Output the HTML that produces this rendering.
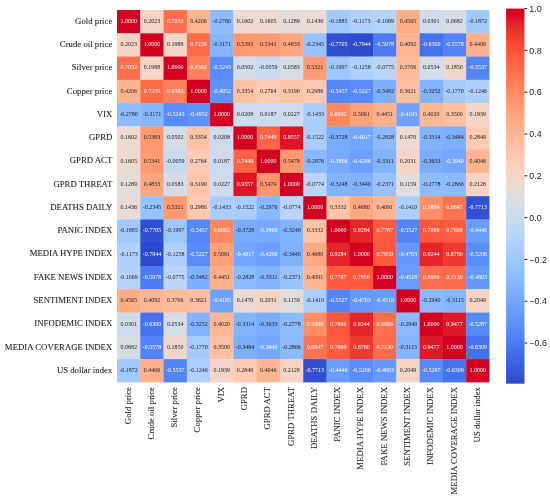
<!DOCTYPE html>
<html lang="en"><head><meta charset="utf-8"><title>Correlation heatmap</title>
<style>html,body{margin:0;padding:0;background:#fff}body{width:550px;height:500px;overflow:hidden}svg{display:block}.yl,.xl{stroke:#1c1c1c;stroke-width:0.08px}.yl{font-family:"Liberation Serif","Times New Roman",serif;font-size:8.75px;fill:#1c1c1c;text-anchor:end}.xl{font-family:"Liberation Serif","Times New Roman",serif;font-size:8.75px;fill:#1c1c1c;text-anchor:end}.an{font-family:"Liberation Serif","Times New Roman",serif;font-size:6.0px;text-anchor:middle}.cb{font-family:"Liberation Sans",Arial,sans-serif;font-size:8.9px;fill:#1c1c1c}</style></head><body>
<svg width="550" height="500" viewBox="0 0 550 500">
<rect x="0" y="0" width="550" height="500" fill="#ffffff"/>
<g>
<rect x="117.00" y="10.00" width="23.58" height="23.57" fill="#d30022"/>
<rect x="140.28" y="10.00" width="23.58" height="23.57" fill="#f6d4c5"/>
<rect x="163.56" y="10.00" width="23.58" height="23.57" fill="#ff6f4d"/>
<rect x="186.84" y="10.00" width="23.58" height="23.57" fill="#ffb38f"/>
<rect x="210.12" y="10.00" width="23.58" height="23.57" fill="#8dbbff"/>
<rect x="233.41" y="10.00" width="23.58" height="23.57" fill="#edd9d0"/>
<rect x="256.69" y="10.00" width="23.58" height="23.57" fill="#edd9d0"/>
<rect x="279.97" y="10.00" width="23.58" height="23.57" fill="#e4dcd8"/>
<rect x="303.25" y="10.00" width="23.58" height="23.57" fill="#e8dad5"/>
<rect x="326.53" y="10.00" width="23.58" height="23.57" fill="#a1c8ff"/>
<rect x="349.81" y="10.00" width="23.58" height="23.57" fill="#b1d1fd"/>
<rect x="373.09" y="10.00" width="23.58" height="23.57" fill="#b4d2fc"/>
<rect x="396.38" y="10.00" width="23.58" height="23.57" fill="#ffac86"/>
<rect x="419.66" y="10.00" width="23.58" height="23.57" fill="#cfdbeb"/>
<rect x="442.94" y="10.00" width="23.58" height="23.57" fill="#d7dce3"/>
<rect x="466.22" y="10.00" width="23.28" height="23.57" fill="#a1c8ff"/>
<rect x="117.00" y="33.27" width="23.58" height="23.57" fill="#f6d4c5"/>
<rect x="140.28" y="33.27" width="23.58" height="23.57" fill="#d30022"/>
<rect x="163.56" y="33.27" width="23.58" height="23.57" fill="#f5d5c7"/>
<rect x="186.84" y="33.27" width="23.58" height="23.57" fill="#ff6a49"/>
<rect x="210.12" y="33.27" width="23.58" height="23.57" fill="#85b5ff"/>
<rect x="233.41" y="33.27" width="23.58" height="23.57" fill="#ff9970"/>
<rect x="256.69" y="33.27" width="23.58" height="23.57" fill="#ff9a72"/>
<rect x="279.97" y="33.27" width="23.58" height="23.57" fill="#ffa67e"/>
<rect x="303.25" y="33.27" width="23.58" height="23.57" fill="#96c2ff"/>
<rect x="326.53" y="33.27" width="23.58" height="23.57" fill="#304fd1"/>
<rect x="349.81" y="33.27" width="23.58" height="23.57" fill="#2d49cc"/>
<rect x="373.09" y="33.27" width="23.58" height="23.57" fill="#4c7bf2"/>
<rect x="396.38" y="33.27" width="23.58" height="23.57" fill="#ffb592"/>
<rect x="419.66" y="33.27" width="23.58" height="23.57" fill="#4673ed"/>
<rect x="442.94" y="33.27" width="23.58" height="23.57" fill="#5283f7"/>
<rect x="466.22" y="33.27" width="23.28" height="23.57" fill="#ffaf89"/>
<rect x="117.00" y="56.55" width="23.58" height="23.57" fill="#ff6f4d"/>
<rect x="140.28" y="56.55" width="23.58" height="23.57" fill="#f5d5c7"/>
<rect x="163.56" y="56.55" width="23.58" height="23.57" fill="#d30022"/>
<rect x="186.84" y="56.55" width="23.58" height="23.57" fill="#ff805a"/>
<rect x="210.12" y="56.55" width="23.58" height="23.57" fill="#598bf9"/>
<rect x="233.41" y="56.55" width="23.58" height="23.57" fill="#d3dce7"/>
<rect x="256.69" y="56.55" width="23.58" height="23.57" fill="#c8daf1"/>
<rect x="279.97" y="56.55" width="23.58" height="23.57" fill="#d5dce6"/>
<rect x="303.25" y="56.55" width="23.58" height="23.57" fill="#ff9a72"/>
<rect x="326.53" y="56.55" width="23.58" height="23.57" fill="#9ec7ff"/>
<rect x="349.81" y="56.55" width="23.58" height="23.57" fill="#afd0fd"/>
<rect x="373.09" y="56.55" width="23.58" height="23.57" fill="#bad4fa"/>
<rect x="396.38" y="56.55" width="23.58" height="23.57" fill="#ffbc9b"/>
<rect x="419.66" y="56.55" width="23.58" height="23.57" fill="#d3dce7"/>
<rect x="442.94" y="56.55" width="23.58" height="23.57" fill="#f2d6cb"/>
<rect x="466.22" y="56.55" width="23.28" height="23.57" fill="#5485f7"/>
<rect x="117.00" y="79.82" width="23.58" height="23.57" fill="#ffb38f"/>
<rect x="140.28" y="79.82" width="23.58" height="23.57" fill="#ff6a49"/>
<rect x="163.56" y="79.82" width="23.58" height="23.57" fill="#ff805a"/>
<rect x="186.84" y="79.82" width="23.58" height="23.57" fill="#d30022"/>
<rect x="210.12" y="79.82" width="23.58" height="23.57" fill="#5e92fb"/>
<rect x="233.41" y="79.82" width="23.58" height="23.57" fill="#ffc2a4"/>
<rect x="256.69" y="79.82" width="23.58" height="23.57" fill="#ffcbb4"/>
<rect x="279.97" y="79.82" width="23.58" height="23.57" fill="#ffc5a9"/>
<rect x="303.25" y="79.82" width="23.58" height="23.57" fill="#ffc8af"/>
<rect x="326.53" y="79.82" width="23.58" height="23.57" fill="#5587f8"/>
<rect x="349.81" y="79.82" width="23.58" height="23.57" fill="#598bf9"/>
<rect x="373.09" y="79.82" width="23.58" height="23.57" fill="#7dafff"/>
<rect x="396.38" y="79.82" width="23.58" height="23.57" fill="#ffbe9f"/>
<rect x="419.66" y="79.82" width="23.58" height="23.57" fill="#82b3ff"/>
<rect x="442.94" y="79.82" width="23.58" height="23.57" fill="#a4caff"/>
<rect x="466.22" y="79.82" width="23.28" height="23.57" fill="#afd0fd"/>
<rect x="117.00" y="103.10" width="23.58" height="23.57" fill="#8dbbff"/>
<rect x="140.28" y="103.10" width="23.58" height="23.57" fill="#85b5ff"/>
<rect x="163.56" y="103.10" width="23.58" height="23.57" fill="#598bf9"/>
<rect x="186.84" y="103.10" width="23.58" height="23.57" fill="#5e92fb"/>
<rect x="210.12" y="103.10" width="23.58" height="23.57" fill="#d30022"/>
<rect x="233.41" y="103.10" width="23.58" height="23.57" fill="#cedbec"/>
<rect x="256.69" y="103.10" width="23.58" height="23.57" fill="#cedbec"/>
<rect x="279.97" y="103.10" width="23.58" height="23.57" fill="#cedbec"/>
<rect x="303.25" y="103.10" width="23.58" height="23.57" fill="#aacdfe"/>
<rect x="326.53" y="103.10" width="23.58" height="23.57" fill="#ff8860"/>
<rect x="349.81" y="103.10" width="23.58" height="23.57" fill="#ffa179"/>
<rect x="373.09" y="103.10" width="23.58" height="23.57" fill="#ffaf89"/>
<rect x="396.38" y="103.10" width="23.58" height="23.57" fill="#6ea2fe"/>
<rect x="419.66" y="103.10" width="23.58" height="23.57" fill="#ffb794"/>
<rect x="442.94" y="103.10" width="23.58" height="23.57" fill="#ffbfa0"/>
<rect x="466.22" y="103.10" width="23.28" height="23.57" fill="#f3d6c9"/>
<rect x="117.00" y="126.38" width="23.58" height="23.57" fill="#edd9d0"/>
<rect x="140.28" y="126.38" width="23.58" height="23.57" fill="#ff9970"/>
<rect x="163.56" y="126.38" width="23.58" height="23.57" fill="#d3dce7"/>
<rect x="186.84" y="126.38" width="23.58" height="23.57" fill="#ffc2a4"/>
<rect x="210.12" y="126.38" width="23.58" height="23.57" fill="#cedbec"/>
<rect x="233.41" y="126.38" width="23.58" height="23.57" fill="#d30022"/>
<rect x="256.69" y="126.38" width="23.58" height="23.57" fill="#ff6345"/>
<rect x="279.97" y="126.38" width="23.58" height="23.57" fill="#de1527"/>
<rect x="303.25" y="126.38" width="23.58" height="23.57" fill="#a9cdfe"/>
<rect x="326.53" y="126.38" width="23.58" height="23.57" fill="#79abff"/>
<rect x="349.81" y="126.38" width="23.58" height="23.57" fill="#72a6ff"/>
<rect x="373.09" y="126.38" width="23.58" height="23.57" fill="#8bbaff"/>
<rect x="396.38" y="126.38" width="23.58" height="23.57" fill="#eadad3"/>
<rect x="419.66" y="126.38" width="23.58" height="23.57" fill="#82b3ff"/>
<rect x="442.94" y="126.38" width="23.58" height="23.57" fill="#7dafff"/>
<rect x="466.22" y="126.38" width="23.28" height="23.57" fill="#ffcab2"/>
<rect x="117.00" y="149.65" width="23.58" height="23.57" fill="#edd9d0"/>
<rect x="140.28" y="149.65" width="23.58" height="23.57" fill="#ff9a72"/>
<rect x="163.56" y="149.65" width="23.58" height="23.57" fill="#c8daf1"/>
<rect x="186.84" y="149.65" width="23.58" height="23.57" fill="#ffcbb4"/>
<rect x="210.12" y="149.65" width="23.58" height="23.57" fill="#cedbec"/>
<rect x="233.41" y="149.65" width="23.58" height="23.57" fill="#ff6345"/>
<rect x="256.69" y="149.65" width="23.58" height="23.57" fill="#d30022"/>
<rect x="279.97" y="149.65" width="23.58" height="23.57" fill="#ff976e"/>
<rect x="303.25" y="149.65" width="23.58" height="23.57" fill="#88b8ff"/>
<rect x="326.53" y="149.65" width="23.58" height="23.57" fill="#76a9ff"/>
<rect x="349.81" y="149.65" width="23.58" height="23.57" fill="#6da0fe"/>
<rect x="373.09" y="149.65" width="23.58" height="23.57" fill="#82b3ff"/>
<rect x="396.38" y="149.65" width="23.58" height="23.57" fill="#f6d4c5"/>
<rect x="419.66" y="149.65" width="23.58" height="23.57" fill="#7aadff"/>
<rect x="442.94" y="149.65" width="23.58" height="23.57" fill="#74a7ff"/>
<rect x="466.22" y="149.65" width="23.28" height="23.57" fill="#ffb592"/>
<rect x="117.00" y="172.92" width="23.58" height="23.57" fill="#e4dcd8"/>
<rect x="140.28" y="172.92" width="23.58" height="23.57" fill="#ffa67e"/>
<rect x="163.56" y="172.92" width="23.58" height="23.57" fill="#d5dce6"/>
<rect x="186.84" y="172.92" width="23.58" height="23.57" fill="#ffc5a9"/>
<rect x="210.12" y="172.92" width="23.58" height="23.57" fill="#cedbec"/>
<rect x="233.41" y="172.92" width="23.58" height="23.57" fill="#de1527"/>
<rect x="256.69" y="172.92" width="23.58" height="23.57" fill="#ff976e"/>
<rect x="279.97" y="172.92" width="23.58" height="23.57" fill="#d30022"/>
<rect x="303.25" y="172.92" width="23.58" height="23.57" fill="#bad4fa"/>
<rect x="326.53" y="172.92" width="23.58" height="23.57" fill="#82b3ff"/>
<rect x="349.81" y="172.92" width="23.58" height="23.57" fill="#7fb1ff"/>
<rect x="373.09" y="172.92" width="23.58" height="23.57" fill="#96c2ff"/>
<rect x="396.38" y="172.92" width="23.58" height="23.57" fill="#e0dddb"/>
<rect x="419.66" y="172.92" width="23.58" height="23.57" fill="#8dbbff"/>
<rect x="442.94" y="172.92" width="23.58" height="23.57" fill="#8bbaff"/>
<rect x="466.22" y="172.92" width="23.28" height="23.57" fill="#f8d3c4"/>
<rect x="117.00" y="196.20" width="23.58" height="23.57" fill="#e8dad5"/>
<rect x="140.28" y="196.20" width="23.58" height="23.57" fill="#96c2ff"/>
<rect x="163.56" y="196.20" width="23.58" height="23.57" fill="#ff9a72"/>
<rect x="186.84" y="196.20" width="23.58" height="23.57" fill="#ffc8af"/>
<rect x="210.12" y="196.20" width="23.58" height="23.57" fill="#aacdfe"/>
<rect x="233.41" y="196.20" width="23.58" height="23.57" fill="#a9cdfe"/>
<rect x="256.69" y="196.20" width="23.58" height="23.57" fill="#88b8ff"/>
<rect x="279.97" y="196.20" width="23.58" height="23.57" fill="#bad4fa"/>
<rect x="303.25" y="196.20" width="23.58" height="23.57" fill="#d30022"/>
<rect x="326.53" y="196.20" width="23.58" height="23.57" fill="#ffc3a6"/>
<rect x="349.81" y="196.20" width="23.58" height="23.57" fill="#ffa982"/>
<rect x="373.09" y="196.20" width="23.58" height="23.57" fill="#ffb592"/>
<rect x="396.38" y="196.20" width="23.58" height="23.57" fill="#accefd"/>
<rect x="419.66" y="196.20" width="23.58" height="23.57" fill="#ff8d65"/>
<rect x="442.94" y="196.20" width="23.58" height="23.57" fill="#ff7350"/>
<rect x="466.22" y="196.20" width="23.28" height="23.57" fill="#304fd1"/>
<rect x="117.00" y="219.47" width="23.58" height="23.57" fill="#a1c8ff"/>
<rect x="140.28" y="219.47" width="23.58" height="23.57" fill="#304fd1"/>
<rect x="163.56" y="219.47" width="23.58" height="23.57" fill="#9ec7ff"/>
<rect x="186.84" y="219.47" width="23.58" height="23.57" fill="#5587f8"/>
<rect x="210.12" y="219.47" width="23.58" height="23.57" fill="#ff8860"/>
<rect x="233.41" y="219.47" width="23.58" height="23.57" fill="#79abff"/>
<rect x="256.69" y="219.47" width="23.58" height="23.57" fill="#76a9ff"/>
<rect x="279.97" y="219.47" width="23.58" height="23.57" fill="#82b3ff"/>
<rect x="303.25" y="219.47" width="23.58" height="23.57" fill="#ffc3a6"/>
<rect x="326.53" y="219.47" width="23.58" height="23.57" fill="#d30022"/>
<rect x="349.81" y="219.47" width="23.58" height="23.57" fill="#e4252a"/>
<rect x="373.09" y="219.47" width="23.58" height="23.57" fill="#ff593f"/>
<rect x="396.38" y="219.47" width="23.58" height="23.57" fill="#5485f7"/>
<rect x="419.66" y="219.47" width="23.58" height="23.57" fill="#ff573e"/>
<rect x="442.94" y="219.47" width="23.58" height="23.57" fill="#ff5b40"/>
<rect x="466.22" y="219.47" width="23.28" height="23.57" fill="#689cfd"/>
<rect x="117.00" y="242.75" width="23.58" height="23.57" fill="#b1d1fd"/>
<rect x="140.28" y="242.75" width="23.58" height="23.57" fill="#2d49cc"/>
<rect x="163.56" y="242.75" width="23.58" height="23.57" fill="#afd0fd"/>
<rect x="186.84" y="242.75" width="23.58" height="23.57" fill="#598bf9"/>
<rect x="210.12" y="242.75" width="23.58" height="23.57" fill="#ffa179"/>
<rect x="233.41" y="242.75" width="23.58" height="23.57" fill="#72a6ff"/>
<rect x="256.69" y="242.75" width="23.58" height="23.57" fill="#6da0fe"/>
<rect x="279.97" y="242.75" width="23.58" height="23.57" fill="#7fb1ff"/>
<rect x="303.25" y="242.75" width="23.58" height="23.57" fill="#ffa982"/>
<rect x="326.53" y="242.75" width="23.58" height="23.57" fill="#e4252a"/>
<rect x="349.81" y="242.75" width="23.58" height="23.57" fill="#d30022"/>
<rect x="373.09" y="242.75" width="23.58" height="23.57" fill="#ff573e"/>
<rect x="396.38" y="242.75" width="23.58" height="23.57" fill="#6498fc"/>
<rect x="419.66" y="242.75" width="23.58" height="23.57" fill="#e4252a"/>
<rect x="442.94" y="242.75" width="23.58" height="23.57" fill="#ef3931"/>
<rect x="466.22" y="242.75" width="23.28" height="23.57" fill="#5a8df9"/>
<rect x="117.00" y="266.02" width="23.58" height="23.57" fill="#b4d2fc"/>
<rect x="140.28" y="266.02" width="23.58" height="23.57" fill="#4c7bf2"/>
<rect x="163.56" y="266.02" width="23.58" height="23.57" fill="#bad4fa"/>
<rect x="186.84" y="266.02" width="23.58" height="23.57" fill="#7dafff"/>
<rect x="210.12" y="266.02" width="23.58" height="23.57" fill="#ffaf89"/>
<rect x="233.41" y="266.02" width="23.58" height="23.57" fill="#8bbaff"/>
<rect x="256.69" y="266.02" width="23.58" height="23.57" fill="#82b3ff"/>
<rect x="279.97" y="266.02" width="23.58" height="23.57" fill="#96c2ff"/>
<rect x="303.25" y="266.02" width="23.58" height="23.57" fill="#ffb592"/>
<rect x="326.53" y="266.02" width="23.58" height="23.57" fill="#ff593f"/>
<rect x="349.81" y="266.02" width="23.58" height="23.57" fill="#ff573e"/>
<rect x="373.09" y="266.02" width="23.58" height="23.57" fill="#d30022"/>
<rect x="396.38" y="266.02" width="23.58" height="23.57" fill="#679bfd"/>
<rect x="419.66" y="266.02" width="23.58" height="23.57" fill="#ff6f4d"/>
<rect x="442.94" y="266.02" width="23.58" height="23.57" fill="#ff6b4a"/>
<rect x="466.22" y="266.02" width="23.28" height="23.57" fill="#6599fc"/>
<rect x="117.00" y="289.30" width="23.58" height="23.57" fill="#ffac86"/>
<rect x="140.28" y="289.30" width="23.58" height="23.57" fill="#ffb592"/>
<rect x="163.56" y="289.30" width="23.58" height="23.57" fill="#ffbc9b"/>
<rect x="186.84" y="289.30" width="23.58" height="23.57" fill="#ffbe9f"/>
<rect x="210.12" y="289.30" width="23.58" height="23.57" fill="#6ea2fe"/>
<rect x="233.41" y="289.30" width="23.58" height="23.57" fill="#eadad3"/>
<rect x="256.69" y="289.30" width="23.58" height="23.57" fill="#f6d4c5"/>
<rect x="279.97" y="289.30" width="23.58" height="23.57" fill="#e0dddb"/>
<rect x="303.25" y="289.30" width="23.58" height="23.57" fill="#accefd"/>
<rect x="326.53" y="289.30" width="23.58" height="23.57" fill="#5485f7"/>
<rect x="349.81" y="289.30" width="23.58" height="23.57" fill="#6498fc"/>
<rect x="373.09" y="289.30" width="23.58" height="23.57" fill="#679bfd"/>
<rect x="396.38" y="289.30" width="23.58" height="23.57" fill="#d30022"/>
<rect x="419.66" y="289.30" width="23.58" height="23.57" fill="#8ab9ff"/>
<rect x="442.94" y="289.30" width="23.58" height="23.57" fill="#85b5ff"/>
<rect x="466.22" y="289.30" width="23.28" height="23.57" fill="#f6d4c5"/>
<rect x="117.00" y="312.57" width="23.58" height="23.57" fill="#cfdbeb"/>
<rect x="140.28" y="312.57" width="23.58" height="23.57" fill="#4673ed"/>
<rect x="163.56" y="312.57" width="23.58" height="23.57" fill="#d3dce7"/>
<rect x="186.84" y="312.57" width="23.58" height="23.57" fill="#82b3ff"/>
<rect x="210.12" y="312.57" width="23.58" height="23.57" fill="#ffb794"/>
<rect x="233.41" y="312.57" width="23.58" height="23.57" fill="#82b3ff"/>
<rect x="256.69" y="312.57" width="23.58" height="23.57" fill="#7aadff"/>
<rect x="279.97" y="312.57" width="23.58" height="23.57" fill="#8dbbff"/>
<rect x="303.25" y="312.57" width="23.58" height="23.57" fill="#ff8d65"/>
<rect x="326.53" y="312.57" width="23.58" height="23.57" fill="#ff573e"/>
<rect x="349.81" y="312.57" width="23.58" height="23.57" fill="#e4252a"/>
<rect x="373.09" y="312.57" width="23.58" height="23.57" fill="#ff6f4d"/>
<rect x="396.38" y="312.57" width="23.58" height="23.57" fill="#8ab9ff"/>
<rect x="419.66" y="312.57" width="23.58" height="23.57" fill="#d30022"/>
<rect x="442.94" y="312.57" width="23.58" height="23.57" fill="#df1a28"/>
<rect x="466.22" y="312.57" width="23.28" height="23.57" fill="#578af9"/>
<rect x="117.00" y="335.85" width="23.58" height="23.57" fill="#d7dce3"/>
<rect x="140.28" y="335.85" width="23.58" height="23.57" fill="#5283f7"/>
<rect x="163.56" y="335.85" width="23.58" height="23.57" fill="#f2d6cb"/>
<rect x="186.84" y="335.85" width="23.58" height="23.57" fill="#a4caff"/>
<rect x="210.12" y="335.85" width="23.58" height="23.57" fill="#ffbfa0"/>
<rect x="233.41" y="335.85" width="23.58" height="23.57" fill="#7dafff"/>
<rect x="256.69" y="335.85" width="23.58" height="23.57" fill="#74a7ff"/>
<rect x="279.97" y="335.85" width="23.58" height="23.57" fill="#8bbaff"/>
<rect x="303.25" y="335.85" width="23.58" height="23.57" fill="#ff7350"/>
<rect x="326.53" y="335.85" width="23.58" height="23.57" fill="#ff5b40"/>
<rect x="349.81" y="335.85" width="23.58" height="23.57" fill="#ef3931"/>
<rect x="373.09" y="335.85" width="23.58" height="23.57" fill="#ff6b4a"/>
<rect x="396.38" y="335.85" width="23.58" height="23.57" fill="#85b5ff"/>
<rect x="419.66" y="335.85" width="23.58" height="23.57" fill="#df1a28"/>
<rect x="442.94" y="335.85" width="23.58" height="23.57" fill="#d30022"/>
<rect x="466.22" y="335.85" width="23.28" height="23.57" fill="#4673ed"/>
<rect x="117.00" y="359.12" width="23.58" height="23.27" fill="#a1c8ff"/>
<rect x="140.28" y="359.12" width="23.58" height="23.27" fill="#ffaf89"/>
<rect x="163.56" y="359.12" width="23.58" height="23.27" fill="#5485f7"/>
<rect x="186.84" y="359.12" width="23.58" height="23.27" fill="#afd0fd"/>
<rect x="210.12" y="359.12" width="23.58" height="23.27" fill="#f3d6c9"/>
<rect x="233.41" y="359.12" width="23.58" height="23.27" fill="#ffcab2"/>
<rect x="256.69" y="359.12" width="23.58" height="23.27" fill="#ffb592"/>
<rect x="279.97" y="359.12" width="23.58" height="23.27" fill="#f8d3c4"/>
<rect x="303.25" y="359.12" width="23.58" height="23.27" fill="#304fd1"/>
<rect x="326.53" y="359.12" width="23.58" height="23.27" fill="#689cfd"/>
<rect x="349.81" y="359.12" width="23.58" height="23.27" fill="#5a8df9"/>
<rect x="373.09" y="359.12" width="23.58" height="23.27" fill="#6599fc"/>
<rect x="396.38" y="359.12" width="23.58" height="23.27" fill="#f6d4c5"/>
<rect x="419.66" y="359.12" width="23.58" height="23.27" fill="#578af9"/>
<rect x="442.94" y="359.12" width="23.58" height="23.27" fill="#4673ed"/>
<rect x="466.22" y="359.12" width="23.28" height="23.27" fill="#d30022"/>
</g>
<g class="an">
<text x="128.64" y="22.94" fill="#ffffff">1.0000</text>
<text x="151.92" y="22.94" fill="#1c1c1c">0.2023</text>
<text x="175.20" y="22.94" fill="#ffffff">0.7032</text>
<text x="198.48" y="22.94" fill="#1c1c1c">0.4206</text>
<text x="221.77" y="22.94" fill="#1c1c1c">-0.2780</text>
<text x="245.05" y="22.94" fill="#1c1c1c">0.1602</text>
<text x="268.33" y="22.94" fill="#1c1c1c">0.1605</text>
<text x="291.61" y="22.94" fill="#1c1c1c">0.1289</text>
<text x="314.89" y="22.94" fill="#1c1c1c">0.1436</text>
<text x="338.17" y="22.94" fill="#1c1c1c">-0.1885</text>
<text x="361.45" y="22.94" fill="#1c1c1c">-0.1173</text>
<text x="384.73" y="22.94" fill="#1c1c1c">-0.1069</text>
<text x="408.02" y="22.94" fill="#1c1c1c">0.4565</text>
<text x="431.30" y="22.94" fill="#1c1c1c">0.0301</text>
<text x="454.58" y="22.94" fill="#1c1c1c">0.0682</text>
<text x="477.86" y="22.94" fill="#1c1c1c">-0.1872</text>
<text x="128.64" y="46.21" fill="#1c1c1c">0.2023</text>
<text x="151.92" y="46.21" fill="#ffffff">1.0000</text>
<text x="175.20" y="46.21" fill="#1c1c1c">0.1988</text>
<text x="198.48" y="46.21" fill="#ffffff">0.7259</text>
<text x="221.77" y="46.21" fill="#1c1c1c">-0.3171</text>
<text x="245.05" y="46.21" fill="#1c1c1c">0.5393</text>
<text x="268.33" y="46.21" fill="#1c1c1c">0.5341</text>
<text x="291.61" y="46.21" fill="#1c1c1c">0.4833</text>
<text x="314.89" y="46.21" fill="#1c1c1c">-0.2345</text>
<text x="338.17" y="46.21" fill="#ffffff">-0.7705</text>
<text x="361.45" y="46.21" fill="#ffffff">-0.7944</text>
<text x="384.73" y="46.21" fill="#ffffff">-0.5978</text>
<text x="408.02" y="46.21" fill="#1c1c1c">0.4092</text>
<text x="431.30" y="46.21" fill="#ffffff">-0.6300</text>
<text x="454.58" y="46.21" fill="#ffffff">-0.5578</text>
<text x="477.86" y="46.21" fill="#1c1c1c">0.4406</text>
<text x="128.64" y="69.49" fill="#ffffff">0.7032</text>
<text x="151.92" y="69.49" fill="#1c1c1c">0.1988</text>
<text x="175.20" y="69.49" fill="#ffffff">1.0000</text>
<text x="198.48" y="69.49" fill="#ffffff">0.6382</text>
<text x="221.77" y="69.49" fill="#ffffff">-0.5243</text>
<text x="245.05" y="69.49" fill="#1c1c1c">0.0502</text>
<text x="268.33" y="69.49" fill="#1c1c1c">-0.0059</text>
<text x="291.61" y="69.49" fill="#1c1c1c">0.0583</text>
<text x="314.89" y="69.49" fill="#1c1c1c">0.5321</text>
<text x="338.17" y="69.49" fill="#1c1c1c">-0.1997</text>
<text x="361.45" y="69.49" fill="#1c1c1c">-0.1258</text>
<text x="384.73" y="69.49" fill="#1c1c1c">-0.0775</text>
<text x="408.02" y="69.49" fill="#1c1c1c">0.3706</text>
<text x="431.30" y="69.49" fill="#1c1c1c">0.0534</text>
<text x="454.58" y="69.49" fill="#1c1c1c">0.1850</text>
<text x="477.86" y="69.49" fill="#ffffff">-0.5537</text>
<text x="128.64" y="92.76" fill="#1c1c1c">0.4206</text>
<text x="151.92" y="92.76" fill="#ffffff">0.7259</text>
<text x="175.20" y="92.76" fill="#ffffff">0.6382</text>
<text x="198.48" y="92.76" fill="#ffffff">1.0000</text>
<text x="221.77" y="92.76" fill="#ffffff">-0.4952</text>
<text x="245.05" y="92.76" fill="#1c1c1c">0.3354</text>
<text x="268.33" y="92.76" fill="#1c1c1c">0.2764</text>
<text x="291.61" y="92.76" fill="#1c1c1c">0.3190</text>
<text x="314.89" y="92.76" fill="#1c1c1c">0.2986</text>
<text x="338.17" y="92.76" fill="#ffffff">-0.5457</text>
<text x="361.45" y="92.76" fill="#ffffff">-0.5227</text>
<text x="384.73" y="92.76" fill="#1c1c1c">-0.3482</text>
<text x="408.02" y="92.76" fill="#1c1c1c">0.3621</text>
<text x="431.30" y="92.76" fill="#1c1c1c">-0.3252</text>
<text x="454.58" y="92.76" fill="#1c1c1c">-0.1770</text>
<text x="477.86" y="92.76" fill="#1c1c1c">-0.1246</text>
<text x="128.64" y="116.04" fill="#1c1c1c">-0.2780</text>
<text x="151.92" y="116.04" fill="#1c1c1c">-0.3171</text>
<text x="175.20" y="116.04" fill="#ffffff">-0.5243</text>
<text x="198.48" y="116.04" fill="#ffffff">-0.4952</text>
<text x="221.77" y="116.04" fill="#ffffff">1.0000</text>
<text x="245.05" y="116.04" fill="#1c1c1c">0.0208</text>
<text x="268.33" y="116.04" fill="#1c1c1c">0.0187</text>
<text x="291.61" y="116.04" fill="#1c1c1c">0.0227</text>
<text x="314.89" y="116.04" fill="#1c1c1c">-0.1433</text>
<text x="338.17" y="116.04" fill="#ffffff">0.6092</text>
<text x="361.45" y="116.04" fill="#1c1c1c">0.5061</text>
<text x="384.73" y="116.04" fill="#1c1c1c">0.4451</text>
<text x="408.02" y="116.04" fill="#ffffff">-0.4195</text>
<text x="431.30" y="116.04" fill="#1c1c1c">0.4020</text>
<text x="454.58" y="116.04" fill="#1c1c1c">0.3500</text>
<text x="477.86" y="116.04" fill="#1c1c1c">0.1939</text>
<text x="128.64" y="139.31" fill="#1c1c1c">0.1602</text>
<text x="151.92" y="139.31" fill="#1c1c1c">0.5393</text>
<text x="175.20" y="139.31" fill="#1c1c1c">0.0502</text>
<text x="198.48" y="139.31" fill="#1c1c1c">0.3354</text>
<text x="221.77" y="139.31" fill="#1c1c1c">0.0208</text>
<text x="245.05" y="139.31" fill="#ffffff">1.0000</text>
<text x="268.33" y="139.31" fill="#ffffff">0.7449</text>
<text x="291.61" y="139.31" fill="#ffffff">0.9557</text>
<text x="314.89" y="139.31" fill="#1c1c1c">-0.1522</text>
<text x="338.17" y="139.31" fill="#1c1c1c">-0.3728</text>
<text x="361.45" y="139.31" fill="#ffffff">-0.4017</text>
<text x="384.73" y="139.31" fill="#1c1c1c">-0.2828</text>
<text x="408.02" y="139.31" fill="#1c1c1c">0.1470</text>
<text x="431.30" y="139.31" fill="#1c1c1c">-0.3314</text>
<text x="454.58" y="139.31" fill="#1c1c1c">-0.3484</text>
<text x="477.86" y="139.31" fill="#1c1c1c">0.2849</text>
<text x="128.64" y="162.59" fill="#1c1c1c">0.1605</text>
<text x="151.92" y="162.59" fill="#1c1c1c">0.5341</text>
<text x="175.20" y="162.59" fill="#1c1c1c">-0.0059</text>
<text x="198.48" y="162.59" fill="#1c1c1c">0.2764</text>
<text x="221.77" y="162.59" fill="#1c1c1c">0.0187</text>
<text x="245.05" y="162.59" fill="#ffffff">0.7449</text>
<text x="268.33" y="162.59" fill="#ffffff">1.0000</text>
<text x="291.61" y="162.59" fill="#1c1c1c">0.5479</text>
<text x="314.89" y="162.59" fill="#1c1c1c">-0.2976</text>
<text x="338.17" y="162.59" fill="#ffffff">-0.3866</text>
<text x="361.45" y="162.59" fill="#ffffff">-0.4296</text>
<text x="384.73" y="162.59" fill="#1c1c1c">-0.3311</text>
<text x="408.02" y="162.59" fill="#1c1c1c">0.2031</text>
<text x="431.30" y="162.59" fill="#1c1c1c">-0.3633</text>
<text x="454.58" y="162.59" fill="#ffffff">-0.3940</text>
<text x="477.86" y="162.59" fill="#1c1c1c">0.4046</text>
<text x="128.64" y="185.86" fill="#1c1c1c">0.1289</text>
<text x="151.92" y="185.86" fill="#1c1c1c">0.4833</text>
<text x="175.20" y="185.86" fill="#1c1c1c">0.0583</text>
<text x="198.48" y="185.86" fill="#1c1c1c">0.3190</text>
<text x="221.77" y="185.86" fill="#1c1c1c">0.0227</text>
<text x="245.05" y="185.86" fill="#ffffff">0.9557</text>
<text x="268.33" y="185.86" fill="#1c1c1c">0.5479</text>
<text x="291.61" y="185.86" fill="#ffffff">1.0000</text>
<text x="314.89" y="185.86" fill="#1c1c1c">-0.0774</text>
<text x="338.17" y="185.86" fill="#1c1c1c">-0.3248</text>
<text x="361.45" y="185.86" fill="#1c1c1c">-0.3440</text>
<text x="384.73" y="185.86" fill="#1c1c1c">-0.2371</text>
<text x="408.02" y="185.86" fill="#1c1c1c">0.1159</text>
<text x="431.30" y="185.86" fill="#1c1c1c">-0.2778</text>
<text x="454.58" y="185.86" fill="#1c1c1c">-0.2866</text>
<text x="477.86" y="185.86" fill="#1c1c1c">0.2128</text>
<text x="128.64" y="209.14" fill="#1c1c1c">0.1436</text>
<text x="151.92" y="209.14" fill="#1c1c1c">-0.2345</text>
<text x="175.20" y="209.14" fill="#1c1c1c">0.5321</text>
<text x="198.48" y="209.14" fill="#1c1c1c">0.2986</text>
<text x="221.77" y="209.14" fill="#1c1c1c">-0.1433</text>
<text x="245.05" y="209.14" fill="#1c1c1c">-0.1522</text>
<text x="268.33" y="209.14" fill="#1c1c1c">-0.2976</text>
<text x="291.61" y="209.14" fill="#1c1c1c">-0.0774</text>
<text x="314.89" y="209.14" fill="#ffffff">1.0000</text>
<text x="338.17" y="209.14" fill="#1c1c1c">0.3332</text>
<text x="361.45" y="209.14" fill="#1c1c1c">0.4680</text>
<text x="384.73" y="209.14" fill="#1c1c1c">0.4091</text>
<text x="408.02" y="209.14" fill="#1c1c1c">-0.1410</text>
<text x="431.30" y="209.14" fill="#ffffff">0.5899</text>
<text x="454.58" y="209.14" fill="#ffffff">0.6847</text>
<text x="477.86" y="209.14" fill="#ffffff">-0.7713</text>
<text x="128.64" y="232.41" fill="#1c1c1c">-0.1885</text>
<text x="151.92" y="232.41" fill="#ffffff">-0.7705</text>
<text x="175.20" y="232.41" fill="#1c1c1c">-0.1997</text>
<text x="198.48" y="232.41" fill="#ffffff">-0.5457</text>
<text x="221.77" y="232.41" fill="#ffffff">0.6092</text>
<text x="245.05" y="232.41" fill="#1c1c1c">-0.3728</text>
<text x="268.33" y="232.41" fill="#ffffff">-0.3866</text>
<text x="291.61" y="232.41" fill="#1c1c1c">-0.3248</text>
<text x="314.89" y="232.41" fill="#1c1c1c">0.3332</text>
<text x="338.17" y="232.41" fill="#ffffff">1.0000</text>
<text x="361.45" y="232.41" fill="#ffffff">0.9284</text>
<text x="384.73" y="232.41" fill="#ffffff">0.7787</text>
<text x="408.02" y="232.41" fill="#ffffff">-0.5527</text>
<text x="431.30" y="232.41" fill="#ffffff">0.7866</text>
<text x="454.58" y="232.41" fill="#ffffff">0.7699</text>
<text x="477.86" y="232.41" fill="#ffffff">-0.4446</text>
<text x="128.64" y="255.69" fill="#1c1c1c">-0.1173</text>
<text x="151.92" y="255.69" fill="#ffffff">-0.7944</text>
<text x="175.20" y="255.69" fill="#1c1c1c">-0.1258</text>
<text x="198.48" y="255.69" fill="#ffffff">-0.5227</text>
<text x="221.77" y="255.69" fill="#1c1c1c">0.5061</text>
<text x="245.05" y="255.69" fill="#ffffff">-0.4017</text>
<text x="268.33" y="255.69" fill="#ffffff">-0.4296</text>
<text x="291.61" y="255.69" fill="#1c1c1c">-0.3440</text>
<text x="314.89" y="255.69" fill="#1c1c1c">0.4680</text>
<text x="338.17" y="255.69" fill="#ffffff">0.9284</text>
<text x="361.45" y="255.69" fill="#ffffff">1.0000</text>
<text x="384.73" y="255.69" fill="#ffffff">0.7850</text>
<text x="408.02" y="255.69" fill="#ffffff">-0.4703</text>
<text x="431.30" y="255.69" fill="#ffffff">0.9244</text>
<text x="454.58" y="255.69" fill="#ffffff">0.8780</text>
<text x="477.86" y="255.69" fill="#ffffff">-0.5206</text>
<text x="128.64" y="278.96" fill="#1c1c1c">-0.1069</text>
<text x="151.92" y="278.96" fill="#ffffff">-0.5978</text>
<text x="175.20" y="278.96" fill="#1c1c1c">-0.0775</text>
<text x="198.48" y="278.96" fill="#1c1c1c">-0.3482</text>
<text x="221.77" y="278.96" fill="#1c1c1c">0.4451</text>
<text x="245.05" y="278.96" fill="#1c1c1c">-0.2828</text>
<text x="268.33" y="278.96" fill="#1c1c1c">-0.3311</text>
<text x="291.61" y="278.96" fill="#1c1c1c">-0.2371</text>
<text x="314.89" y="278.96" fill="#1c1c1c">0.4091</text>
<text x="338.17" y="278.96" fill="#ffffff">0.7787</text>
<text x="361.45" y="278.96" fill="#ffffff">0.7850</text>
<text x="384.73" y="278.96" fill="#ffffff">1.0000</text>
<text x="408.02" y="278.96" fill="#ffffff">-0.4518</text>
<text x="431.30" y="278.96" fill="#ffffff">0.6996</text>
<text x="454.58" y="278.96" fill="#ffffff">0.7130</text>
<text x="477.86" y="278.96" fill="#ffffff">-0.4603</text>
<text x="128.64" y="302.24" fill="#1c1c1c">0.4565</text>
<text x="151.92" y="302.24" fill="#1c1c1c">0.4092</text>
<text x="175.20" y="302.24" fill="#1c1c1c">0.3706</text>
<text x="198.48" y="302.24" fill="#1c1c1c">0.3621</text>
<text x="221.77" y="302.24" fill="#ffffff">-0.4195</text>
<text x="245.05" y="302.24" fill="#1c1c1c">0.1470</text>
<text x="268.33" y="302.24" fill="#1c1c1c">0.2031</text>
<text x="291.61" y="302.24" fill="#1c1c1c">0.1159</text>
<text x="314.89" y="302.24" fill="#1c1c1c">-0.1410</text>
<text x="338.17" y="302.24" fill="#ffffff">-0.5527</text>
<text x="361.45" y="302.24" fill="#ffffff">-0.4703</text>
<text x="384.73" y="302.24" fill="#ffffff">-0.4518</text>
<text x="408.02" y="302.24" fill="#ffffff">1.0000</text>
<text x="431.30" y="302.24" fill="#1c1c1c">-0.2940</text>
<text x="454.58" y="302.24" fill="#1c1c1c">-0.3115</text>
<text x="477.86" y="302.24" fill="#1c1c1c">0.2049</text>
<text x="128.64" y="325.51" fill="#1c1c1c">0.0301</text>
<text x="151.92" y="325.51" fill="#ffffff">-0.6300</text>
<text x="175.20" y="325.51" fill="#1c1c1c">0.0534</text>
<text x="198.48" y="325.51" fill="#1c1c1c">-0.3252</text>
<text x="221.77" y="325.51" fill="#1c1c1c">0.4020</text>
<text x="245.05" y="325.51" fill="#1c1c1c">-0.3314</text>
<text x="268.33" y="325.51" fill="#1c1c1c">-0.3633</text>
<text x="291.61" y="325.51" fill="#1c1c1c">-0.2778</text>
<text x="314.89" y="325.51" fill="#ffffff">0.5899</text>
<text x="338.17" y="325.51" fill="#ffffff">0.7866</text>
<text x="361.45" y="325.51" fill="#ffffff">0.9244</text>
<text x="384.73" y="325.51" fill="#ffffff">0.6996</text>
<text x="408.02" y="325.51" fill="#1c1c1c">-0.2940</text>
<text x="431.30" y="325.51" fill="#ffffff">1.0000</text>
<text x="454.58" y="325.51" fill="#ffffff">0.9477</text>
<text x="477.86" y="325.51" fill="#ffffff">-0.5287</text>
<text x="128.64" y="348.79" fill="#1c1c1c">0.0682</text>
<text x="151.92" y="348.79" fill="#ffffff">-0.5578</text>
<text x="175.20" y="348.79" fill="#1c1c1c">0.1850</text>
<text x="198.48" y="348.79" fill="#1c1c1c">-0.1770</text>
<text x="221.77" y="348.79" fill="#1c1c1c">0.3500</text>
<text x="245.05" y="348.79" fill="#1c1c1c">-0.3484</text>
<text x="268.33" y="348.79" fill="#ffffff">-0.3940</text>
<text x="291.61" y="348.79" fill="#1c1c1c">-0.2866</text>
<text x="314.89" y="348.79" fill="#ffffff">0.6847</text>
<text x="338.17" y="348.79" fill="#ffffff">0.7699</text>
<text x="361.45" y="348.79" fill="#ffffff">0.8780</text>
<text x="384.73" y="348.79" fill="#ffffff">0.7130</text>
<text x="408.02" y="348.79" fill="#1c1c1c">-0.3115</text>
<text x="431.30" y="348.79" fill="#ffffff">0.9477</text>
<text x="454.58" y="348.79" fill="#ffffff">1.0000</text>
<text x="477.86" y="348.79" fill="#ffffff">-0.6309</text>
<text x="128.64" y="372.06" fill="#1c1c1c">-0.1872</text>
<text x="151.92" y="372.06" fill="#1c1c1c">0.4406</text>
<text x="175.20" y="372.06" fill="#ffffff">-0.5537</text>
<text x="198.48" y="372.06" fill="#1c1c1c">-0.1246</text>
<text x="221.77" y="372.06" fill="#1c1c1c">0.1939</text>
<text x="245.05" y="372.06" fill="#1c1c1c">0.2849</text>
<text x="268.33" y="372.06" fill="#1c1c1c">0.4046</text>
<text x="291.61" y="372.06" fill="#1c1c1c">0.2128</text>
<text x="314.89" y="372.06" fill="#ffffff">-0.7713</text>
<text x="338.17" y="372.06" fill="#ffffff">-0.4446</text>
<text x="361.45" y="372.06" fill="#ffffff">-0.5206</text>
<text x="384.73" y="372.06" fill="#ffffff">-0.4603</text>
<text x="408.02" y="372.06" fill="#1c1c1c">0.2049</text>
<text x="431.30" y="372.06" fill="#ffffff">-0.5287</text>
<text x="454.58" y="372.06" fill="#ffffff">-0.6309</text>
<text x="477.86" y="372.06" fill="#ffffff">1.0000</text>
</g>
<g class="yl">
<text x="112.30" y="23.74">Gold price</text>
<text x="112.30" y="47.01">Crude oil price</text>
<text x="112.30" y="70.29">Silver price</text>
<text x="112.30" y="93.56">Copper price</text>
<text x="112.30" y="116.84">VIX</text>
<text x="112.30" y="140.11">GPRD</text>
<text x="112.30" y="163.39">GPRD ACT</text>
<text x="112.30" y="186.66">GPRD THREAT</text>
<text x="112.30" y="209.94">DEATHS DAILY</text>
<text x="112.30" y="233.21">PANIC INDEX</text>
<text x="112.30" y="256.49">MEDIA HYPE INDEX</text>
<text x="112.30" y="279.76">FAKE NEWS INDEX</text>
<text x="112.30" y="303.04">SENTIMENT INDEX</text>
<text x="112.30" y="326.31">INFODEMIC INDEX</text>
<text x="112.30" y="349.59">MEDIA COVERAGE INDEX</text>
<text x="112.30" y="372.86">US dollar index</text>
</g>
<g class="xl">
<text transform="translate(130.64 387.00) rotate(-90)">Gold price</text>
<text transform="translate(153.92 387.00) rotate(-90)">Crude oil price</text>
<text transform="translate(177.20 387.00) rotate(-90)">Silver price</text>
<text transform="translate(200.48 387.00) rotate(-90)">Copper price</text>
<text transform="translate(223.77 387.00) rotate(-90)">VIX</text>
<text transform="translate(247.05 387.00) rotate(-90)">GPRD</text>
<text transform="translate(270.33 387.00) rotate(-90)">GPRD ACT</text>
<text transform="translate(293.61 387.00) rotate(-90)">GPRD THREAT</text>
<text transform="translate(316.89 387.00) rotate(-90)">DEATHS DAILY</text>
<text transform="translate(340.17 387.00) rotate(-90)">PANIC INDEX</text>
<text transform="translate(363.45 387.00) rotate(-90)">MEDIA HYPE INDEX</text>
<text transform="translate(386.73 387.00) rotate(-90)">FAKE NEWS INDEX</text>
<text transform="translate(410.02 387.00) rotate(-90)">SENTIMENT INDEX</text>
<text transform="translate(433.30 387.00) rotate(-90)">INFODEMIC INDEX</text>
<text transform="translate(456.58 387.00) rotate(-90)">MEDIA COVERAGE INDEX</text>
<text transform="translate(479.86 387.00) rotate(-90)">US dollar index</text>
</g>
<defs><linearGradient id="cbg" x1="0" y1="0" x2="0" y2="1"><stop offset="0.0000" stop-color="#d30022"/><stop offset="0.0156" stop-color="#d80524"/><stop offset="0.0312" stop-color="#df1a27"/><stop offset="0.0469" stop-color="#e6282b"/><stop offset="0.0625" stop-color="#ec342e"/><stop offset="0.0781" stop-color="#f23e32"/><stop offset="0.0938" stop-color="#f84736"/><stop offset="0.1094" stop-color="#fd503b"/><stop offset="0.1250" stop-color="#ff593f"/><stop offset="0.1406" stop-color="#ff6144"/><stop offset="0.1562" stop-color="#ff6949"/><stop offset="0.1719" stop-color="#ff714f"/><stop offset="0.1875" stop-color="#ff7954"/><stop offset="0.2031" stop-color="#ff805a"/><stop offset="0.2188" stop-color="#ff8860"/><stop offset="0.2344" stop-color="#ff8f66"/><stop offset="0.2500" stop-color="#ff956c"/><stop offset="0.2656" stop-color="#ff9c74"/><stop offset="0.2812" stop-color="#ffa37b"/><stop offset="0.2969" stop-color="#ffa982"/><stop offset="0.3125" stop-color="#ffaf89"/><stop offset="0.3281" stop-color="#ffb490"/><stop offset="0.3438" stop-color="#ffb998"/><stop offset="0.3594" stop-color="#ffbe9f"/><stop offset="0.3750" stop-color="#ffc3a6"/><stop offset="0.3906" stop-color="#ffc7ad"/><stop offset="0.4062" stop-color="#ffcbb4"/><stop offset="0.4219" stop-color="#ffcfbb"/><stop offset="0.4375" stop-color="#f9d3c2"/><stop offset="0.4531" stop-color="#f3d6c9"/><stop offset="0.4688" stop-color="#edd9d0"/><stop offset="0.4844" stop-color="#e6dbd6"/><stop offset="0.5000" stop-color="#dfdddd"/><stop offset="0.5156" stop-color="#d9dde2"/><stop offset="0.5312" stop-color="#d3dce7"/><stop offset="0.5469" stop-color="#cedbec"/><stop offset="0.5625" stop-color="#c8daf1"/><stop offset="0.5781" stop-color="#c3d8f5"/><stop offset="0.5938" stop-color="#bdd6f9"/><stop offset="0.6094" stop-color="#b7d3fb"/><stop offset="0.6250" stop-color="#b1d1fd"/><stop offset="0.6406" stop-color="#aacdfe"/><stop offset="0.6562" stop-color="#a4caff"/><stop offset="0.6719" stop-color="#9ec7ff"/><stop offset="0.6875" stop-color="#98c3ff"/><stop offset="0.7031" stop-color="#91beff"/><stop offset="0.7188" stop-color="#8bbaff"/><stop offset="0.7344" stop-color="#85b5ff"/><stop offset="0.7500" stop-color="#7fb1ff"/><stop offset="0.7656" stop-color="#79abff"/><stop offset="0.7812" stop-color="#72a6ff"/><stop offset="0.7969" stop-color="#6da0fe"/><stop offset="0.8125" stop-color="#679bfd"/><stop offset="0.8281" stop-color="#6195fb"/><stop offset="0.8438" stop-color="#5b8ffa"/><stop offset="0.8594" stop-color="#5688f8"/><stop offset="0.8750" stop-color="#5182f6"/><stop offset="0.8906" stop-color="#4c7bf2"/><stop offset="0.9062" stop-color="#4774ee"/><stop offset="0.9219" stop-color="#426de9"/><stop offset="0.9375" stop-color="#3e66e4"/><stop offset="0.9531" stop-color="#3a5fde"/><stop offset="0.9688" stop-color="#3558d9"/><stop offset="0.9844" stop-color="#3151d3"/><stop offset="1.0000" stop-color="#2d49cc"/></linearGradient></defs>
<rect x="506.10" y="8.60" width="18.40" height="375.10" fill="url(#cbg)"/>
<g class="cb">
<line x1="524.50" y1="8.60" x2="527.30" y2="8.60" stroke="#1c1c1c" stroke-width="1.0"/>
<text x="529.30" y="11.70">1.0</text>
<line x1="524.50" y1="50.41" x2="527.30" y2="50.41" stroke="#1c1c1c" stroke-width="1.0"/>
<text x="529.30" y="53.51">0.8</text>
<line x1="524.50" y1="92.22" x2="527.30" y2="92.22" stroke="#1c1c1c" stroke-width="1.0"/>
<text x="529.30" y="95.32">0.6</text>
<line x1="524.50" y1="134.02" x2="527.30" y2="134.02" stroke="#1c1c1c" stroke-width="1.0"/>
<text x="529.30" y="137.12">0.4</text>
<line x1="524.50" y1="175.83" x2="527.30" y2="175.83" stroke="#1c1c1c" stroke-width="1.0"/>
<text x="529.30" y="178.93">0.2</text>
<line x1="524.50" y1="217.64" x2="527.30" y2="217.64" stroke="#1c1c1c" stroke-width="1.0"/>
<text x="529.30" y="220.74">0.0</text>
<line x1="524.50" y1="259.45" x2="527.30" y2="259.45" stroke="#1c1c1c" stroke-width="1.0"/>
<text x="529.30" y="262.55">−0.2</text>
<line x1="524.50" y1="301.25" x2="527.30" y2="301.25" stroke="#1c1c1c" stroke-width="1.0"/>
<text x="529.30" y="304.35">−0.4</text>
<line x1="524.50" y1="343.06" x2="527.30" y2="343.06" stroke="#1c1c1c" stroke-width="1.0"/>
<text x="529.30" y="346.16">−0.6</text>
</g>
</svg></body></html>
